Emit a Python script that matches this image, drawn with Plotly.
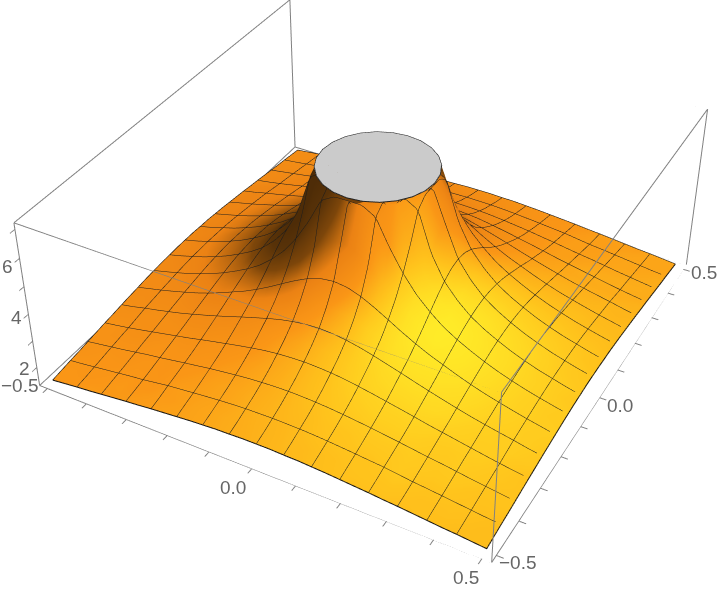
import numpy as np
import plotly.graph_objects as go

# The rest of the surface is the mirror image of this quarter.
height_quarter = [
 [32.0,32.0,16.0,10.67,8.0,6.40,5.33,4.57,4.00,3.56,3.20,2.91,2.67,2.46,2.29,2.13,2.00],
 [32.0,22.63,14.31,10.12,7.76,6.28,5.26,4.53,3.97,3.53,3.18,2.90,2.66,2.45,2.28,2.13,2.00],
 [16.0,14.31,11.31,8.88,6.90,5.94,5.06,4.40,3.88,3.47,3.14,2.86,2.63,2.43,2.27,2.11,1.98],
 [10.67,10.12,8.88,7.54,6.40,5.49,4.77,4.20,3.75,3.37,3.07,2.81,2.59,2.40,2.24,2.09,1.97],
 [8.0,7.76,6.90,6.40,5.66,5.00,4.44,3.97,3.58,3.25,2.97,2.73,2.53,2.35,2.20,2.06,1.94],
 [6.40,6.28,5.94,5.49,5.00,4.53,4.10,3.72,3.39,3.11,2.86,2.65,2.46,2.30,2.15,2.02,1.91],
 [5.33,5.26,5.06,4.77,4.44,4.10,3.77,3.46,3.20,2.96,2.74,2.55,2.39,2.24,2.10,1.98,1.87],
 [4.57,4.53,4.40,4.20,3.97,3.72,3.46,3.23,3.01,2.81,2.62,2.45,2.30,2.17,2.04,1.93,1.83],
 [4.00,3.97,3.88,3.75,3.58,3.39,3.20,3.01,2.83,2.66,2.50,2.35,2.22,2.10,1.99,1.88,1.79],
 [3.56,3.53,3.47,3.37,3.25,3.11,2.96,2.81,2.66,2.51,2.37,2.24,2.13,2.02,1.92,1.83,1.74],
 [3.20,3.18,3.14,3.07,2.97,2.86,2.74,2.62,2.50,2.37,2.26,2.15,2.04,1.94,1.85,1.77,1.70],
 [2.91,2.90,2.86,2.81,2.73,2.65,2.55,2.45,2.35,2.24,2.15,2.06,1.97,1.88,1.80,1.72,1.65],
 [2.67,2.66,2.63,2.59,2.53,2.46,2.39,2.30,2.22,2.13,2.04,1.97,1.89,1.81,1.74,1.67,1.60],
 [2.46,2.45,2.43,2.40,2.35,2.30,2.24,2.17,2.10,2.02,1.94,1.88,1.81,1.74,1.68,1.62,1.55],
 [2.29,2.28,2.27,2.24,2.20,2.15,2.10,2.04,1.99,1.92,1.85,1.80,1.74,1.68,1.62,1.56,1.51],
 [2.13,2.13,2.11,2.09,2.06,2.02,1.98,1.93,1.88,1.83,1.77,1.72,1.67,1.62,1.56,1.51,1.46],
 [2.00,2.00,1.98,1.97,1.94,1.91,1.87,1.83,1.79,1.74,1.70,1.65,1.60,1.55,1.51,1.46,1.41],
]
# Correction of the first reading, taken from comparing mesh lines with the picture
reading_before = [1.41,2.00,2.29,2.67,3.20,4.00,5.33,6.40,6.90,7.12,40.0]
reading_after  = [1.41,2.00,2.25,2.57,3.00,3.60,4.70,5.80,6.70,7.12,40.0]
grid_quarter = [0,.03125,.0625,.09375,.125,.15625,.1875,.21875,.25,.28125,.3125,.34375,.375,.40625,.4375,.46875,.5]
cap_x = [.130,.1256,.1126,.0919,.065,.0336,0,-.0336,-.065,-.0919,-.1126,-.1256,-.130,-.1256,-.1126,-.0919,-.065,-.0336,0,.0336,.065,.0919,.1126,.1256]
cap_y = [0,.0336,.065,.0919,.1126,.1256,.130,.1256,.1126,.0919,.065,.0336,0,-.0336,-.065,-.0919,-.1126,-.1256,-.130,-.1256,-.1126,-.0919,-.065,-.0336]
cap_z = 7.12
x_range = [-.52,.52]
y_range = [-.52,.52]
z_range = [1.30,7.22]
xy_ticks = [-.5,-.4,-.3,-.2,-.1,0,.1,.2,.3,.4,.5]
z_ticks = [2,3,4,5,6,7]
# label text, then centre in window pixels
tick_labels = [("\u22120.5",20,386),("0.0",233,487),("0.5",466,578),
               ("\u22120.5",518,562),("0.0",620,405),("0.5",704,273),
               ("2",24,368),("4",16,317),("6",7,266)]

FIG_W, FIG_H, OFF_X, OFF_Y = 1684, 1381, -464, -445
EYE = np.array([1.3,-2.4,2.0])

q = np.interp(np.array(height_quarter), reading_before, reading_after)
Z_full = np.vstack([np.hstack([q[::-1,::-1],q[::-1,1:]]),np.hstack([q[1:,::-1],q[1:,1:]])])
g = np.array(grid_quarter)
axis = np.concatenate([-g[::-1],g[1:]])

# clip at the rim: points under the cap sit below it, points with no outside neighbour sink lower
above = Z_full > cap_z
deep = np.zeros_like(above)
for i in range(1,above.shape[0]-1):
    for j in range(1,above.shape[1]-1):
        deep[i,j] = above[i-1:i+2,j-1:j+2].all()
Z = np.minimum(Z_full, 6.97)
Z[deep] = 6.4

# shade from surface normal (box-scaled) against a view-space light
sx = 1/(x_range[1]-x_range[0]); sz = .4/(z_range[1]-z_range[0])
dzdy, dzdx = np.gradient(Z_full, axis, axis)
n = np.stack([-dzdx*sz/sx,-dzdy*sz/sx,np.ones_like(Z)],-1)
n /= np.linalg.norm(n,axis=-1,keepdims=True)
f = EYE/np.linalg.norm(EYE)
r = np.cross([0,0,1.],f); r/=np.linalg.norm(r)
u = np.cross(f,r)
L = np.array([.33,.3,.9]); L/=np.linalg.norm(L)
shade = (n@r)*L[0]+(n@u)*L[1]+(n@f)*L[2]

fig = go.Figure()
mesh = dict(show=True,start=-.5,end=.5,size=.0625,color="#1c1c1c",width=2,highlight=False)
fig.add_trace(go.Surface(x=axis,y=axis,z=Z,surfacecolor=shade,cmin=0,cmax=1,showscale=False,
    colorscale=[[0,"rgb(78,44,7)"],[.2,"rgb(88,50,8)"],[.38,"rgb(125,70,10)"],[.56,"rgb(235,130,20)"],
                [.74,"rgb(250,150,22)"],[.88,"rgb(255,195,28)"],[1,"rgb(255,235,40)"]],
    lighting=dict(ambient=1,diffuse=0,specular=0,fresnel=0,roughness=1),hoverinfo="skip",
    contours=dict(x=mesh,y=mesh)))
# cap
m=len(cap_x)
fig.add_trace(go.Mesh3d(x=cap_x,y=cap_y,z=[cap_z]*m,i=[0]*(m-2),j=list(range(1,m-1)),k=list(range(2,m)),
    color="#cbcbcb",flatshading=True,lighting=dict(ambient=1,diffuse=0,specular=0,fresnel=0),hoverinfo="skip"))
fig.add_trace(go.Scatter3d(x=cap_x+cap_x[:1],y=cap_y+cap_y[:1],z=[cap_z]*(m+1),mode="lines",
    line=dict(color="#222",width=2),hoverinfo="skip",showlegend=False))
# surface edge
e0,e1=axis[0],axis[-1]
fig.add_trace(go.Scatter3d(
    x=list(axis)+[e1]*len(axis)+list(axis[::-1])+[e0]*len(axis),
    y=[e0]*len(axis)+list(axis)+[e1]*len(axis)+list(axis[::-1]),
    z=list(Z[0,:])+list(Z[:,-1])+list(Z[-1,::-1])+list(Z[::-1,0]),
    mode="lines",line=dict(color="#111",width=2),hoverinfo="skip",showlegend=False))
# box
bx,by,bz=[],[],[]
for a in x_range:
    for b in y_range:
        bx+=[a,a,None];by+=[b,b,None];bz+=[z_range[0],z_range[1],None]
    for c in z_range:
        bx+=[a,a,None];by+=[y_range[0],y_range[1],None];bz+=[c,c,None]
for b in y_range:
    for c in z_range:
        bx+=[x_range[0],x_range[1],None];by+=[b,b,None];bz+=[c,c,None]
fig.add_trace(go.Scatter3d(x=bx,y=by,z=bz,mode="lines",line=dict(color="#808080",width=2),hoverinfo="skip",showlegend=False))

def ax(rng,ticks):
    return dict(range=rng,autorange=False,showbackground=False,showgrid=False,zeroline=False,showline=False,
        showspikes=False,title=dict(text=""),showticklabels=False,tickmode="array",tickvals=ticks,
        ticks="inside",ticklen=6,tickcolor="#808080",tickwidth=2)
fig.update_layout(width=FIG_W,height=FIG_H,margin=dict(l=0,r=0,t=0,b=0),paper_bgcolor="white",showlegend=False,
    scene=dict(domain=dict(x=[0,1],y=[0,1]),aspectmode="manual",aspectratio=dict(x=1,y=1,z=.4),
        camera=dict(eye=dict(x=EYE[0],y=EYE[1],z=EYE[2]),center=dict(x=0,y=0,z=0),up=dict(x=0,y=0,z=1),projection=dict(type="perspective")),
        xaxis=ax(x_range,xy_ticks),yaxis=ax(y_range,xy_ticks),zaxis=ax(z_range,z_ticks)),
    annotations=[dict(text=t,xref="paper",yref="paper",x=(px-OFF_X)/FIG_W,y=1-(py-OFF_Y)/FIG_H,showarrow=False,
        xanchor="center",yanchor="middle",font=dict(family="Liberation Sans",size=19,color="#666")) for t,px,py in tick_labels])
post = ("var gd=document.getElementById('{plot_id}');gd.style.position='absolute';"
        f"gd.style.left='{OFF_X}px';gd.style.top='{OFF_Y}px';"
        "document.body.style.margin='0';document.body.style.overflow='hidden';document.documentElement.style.overflow='hidden';")
fig.write_html("out.html",post_script=post,config=dict(displayModeBar=False))
